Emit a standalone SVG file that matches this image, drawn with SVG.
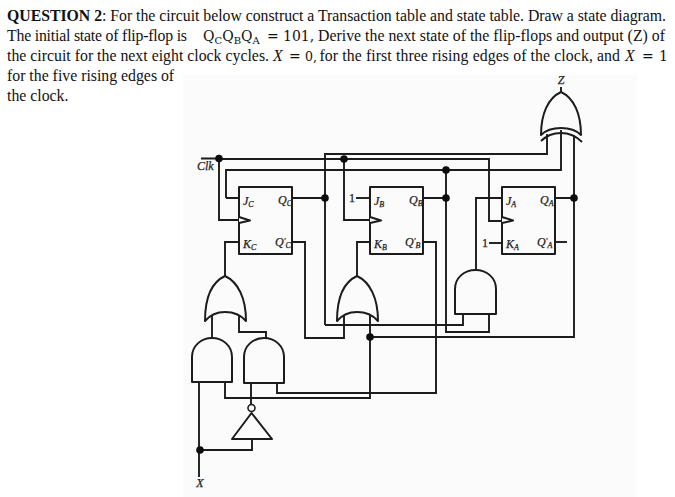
<svg xmlns="http://www.w3.org/2000/svg" width="675" height="497" viewBox="0 0 675 497">
<style>
.q{font:15.8px "Liberation Serif",serif;fill:#111}
.m{font-family:"DejaVu Serif","Liberation Serif",serif;font-size:14px}
.z{font-size:12.500px}
.s{font-size:10px}
.b{font-weight:bold}
.i{font-style:italic}
.l{font:italic 12px "Liberation Serif",serif;fill:#222;stroke:#222;stroke-width:.25}
.u{font-style:normal}
.ls{font-size:8px}
.w{fill:none;stroke:#1c1c1c;stroke-width:1.9}
.g{fill:#fbfbfb;stroke:#1c1c1c;stroke-width:2;stroke-linejoin:round}
.d{fill:#0c0c0c}
</style>
<rect width="675" height="497" fill="#fff"/>
<rect x="183" y="75" width="454" height="422" fill="#fbfbfb"/>
<g id="question">
<text class="q" x="7" y="20.500" textLength="659" lengthAdjust="spacing"><tspan class="b">QUESTION 2</tspan>: For the circuit below construct a Transaction table and state table. Draw a state diagram.</text>
<text class="q" x="7" y="40.500" textLength="180" lengthAdjust="spacing">The initial state of flip-flop is</text>
<text class="q m" x="203" y="40.500">Q<tspan class="s" dy="3">C</tspan><tspan dy="-3">Q</tspan><tspan class="s" dy="3">B</tspan><tspan dy="-3">Q</tspan><tspan class="s" dy="3">A</tspan></text>
<text class="q m" x="267" y="40.500">=</text>
<text class="q m" x="283" y="40.500">101,</text>
<text class="q" x="318" y="40.500" textLength="347" lengthAdjust="spacing">Derive the next state of the flip-flops and output (Z) of</text>
<text class="q" x="7" y="60.500" textLength="262" lengthAdjust="spacing">the circuit for the next eight clock cycles.</text>
<text class="q i" x="273" y="60.500">X</text>
<text class="q m" x="289" y="60.500">=</text>
<text class="q m z" x="305" y="60.500">0,</text>
<text class="q" x="319.500" y="60.500" textLength="300.500" lengthAdjust="spacing">for the first three rising edges of the clock, and</text>
<text class="q i" x="625" y="60.500">X</text>
<text class="q m" x="642" y="60.500">=</text>
<text class="q m" x="659" y="60.500">1</text>
<text class="q" x="7" y="81">for the five rising edges of</text>
<text class="q" x="7" y="101">the clock.</text>
</g>
<g id="connectors" class="w">
<path d="M201 158.500H219M219 159H489V221H502"/>
<path d="M219 159V220H239"/>
<path d="M344 159V220H370"/>
<path d="M226 198H239M226 198V170H561V130"/>
<path d="M292 198H325M325 325V154H547V134"/>
<path d="M325 325H463V314"/>
<path d="M292 242H305V338H344V315"/>
<path d="M239 242H225V276"/>
<path d="M370 242H357V276"/>
<path d="M423 198H446M446 170V332H489V314"/>
<path d="M423 242H436V393H277V383"/>
<path d="M502 198H476V270"/>
<path d="M555 198H574M574 135V337H370"/>
<path d="M370 315V398H225V382"/>
<path d="M555 242H567"/>
<path d="M489 243H502"/>
<path d="M356 198H370"/>
<path d="M212 316V338"/>
<path d="M239 316V332H266V338"/>
<path d="M199 382V477"/>
<path d="M251 383V405"/>
<path d="M252 439V450H200"/>
<path d="M561 87V92"/>
</g>
<g id="dots" class="d">
<circle cx="219" cy="158.500" r="3.800"/>
<circle cx="344" cy="159" r="3.800"/>
<circle cx="325" cy="198" r="3.800"/>
<circle cx="446" cy="170" r="3.800"/>
<circle cx="446" cy="198" r="3.800"/>
<circle cx="574" cy="198" r="3.800"/>
<circle cx="370" cy="337" r="3.800"/>
<circle cx="200" cy="450" r="3.800"/>
</g>
<g id="ff-c">
<rect class="g" x="239" y="187" width="53" height="67"/>
<path class="g" d="M239 217L250 220.500L239 223"/>
<text class="l" x="243" y="205">J<tspan class="ls" dy="2">C</tspan></text>
<text class="l" x="278" y="204">Q<tspan class="ls" dy="2">C</tspan></text>
<text class="l" x="275" y="246">Q<tspan class="ls" dy="-2">′</tspan><tspan class="ls" dy="4">C</tspan></text>
<text class="l" x="243" y="248">K<tspan class="ls" dy="2">C</tspan></text>
</g>
<g id="ff-b">
<rect class="g" x="370" y="187" width="53" height="67"/>
<path class="g" d="M370 217L381 220.500L370 223"/>
<text class="l" x="374" y="205">J<tspan class="ls" dy="2">B</tspan></text>
<text class="l" x="409" y="204">Q<tspan class="ls" dy="2">B</tspan></text>
<text class="l" x="405" y="246">Q<tspan class="ls" dy="-2">′</tspan><tspan class="ls" dy="4">B</tspan></text>
<text class="l" x="374" y="248">K<tspan class="ls" dy="2">B</tspan></text>
<text class="l u" x="355" y="202" text-anchor="end">1</text>
</g>
<g id="ff-a">
<rect class="g" x="502" y="187" width="53" height="67"/>
<path class="g" d="M502 217L513 220.500L502 223"/>
<text class="l" x="506" y="205">J<tspan class="ls" dy="2">A</tspan></text>
<text class="l" x="540" y="204">Q<tspan class="ls" dy="2">A</tspan></text>
<text class="l" x="537" y="246">Q<tspan class="ls" dy="-2">′</tspan><tspan class="ls" dy="4">A</tspan></text>
<text class="l" x="506" y="248">K<tspan class="ls" dy="2">A</tspan></text>
<text class="l u" x="488" y="247" text-anchor="end">1</text>
</g>
<g id="or-c"><path class="g" d="M225 276C238 282 246 298 246 321C240 314 232 312 225 312C218 312 211 314 205 321C205 298 212 282 225 276Z"/></g>
<g id="or-b"><path class="g" d="M357 276C370 282 378 298 378 321C372 314 364 312 357 312C350 312 343 314 337 321C337 298 344 282 357 276Z"/></g>
<g id="xor-z">
<path class="g" d="M561 92C574 98 581 114 581 135C575 129 568 128 561 128C554 128 547 129 541 135C541 114 548 98 561 92Z"/>
<path class="w" d="M541 141C547 135 554 133 561 133C568 133 575 135 582 142"/>
</g>
<g id="and-a"><path class="g" d="M455 314V289C455 278 464 270 475.500 270C487 270 496 278 496 289V314Z"/></g>
<g id="and-1"><path class="g" d="M192 382V357C192 346 201 338 212 338C223 338 232 346 232 357V382Z"/></g>
<g id="and-2"><path class="g" d="M244 383V357C244 346 253 338 264 338C275 338 284 346 284 357V383Z"/></g>
<g id="inverter">
<path class="g" d="M251.500 413L272 439H232Z"/>
<circle cx="251.500" cy="408" r="3.500" fill="#fbfbfb" stroke="#1c1c1c" stroke-width="1.600"/>
</g>
<g id="signals">
<text class="l" x="197" y="169.500">Clk</text>
<text class="l" x="561" y="84" text-anchor="middle">Z</text>
<text class="l" x="200" y="487" text-anchor="middle">X</text>
</g>
</svg>
